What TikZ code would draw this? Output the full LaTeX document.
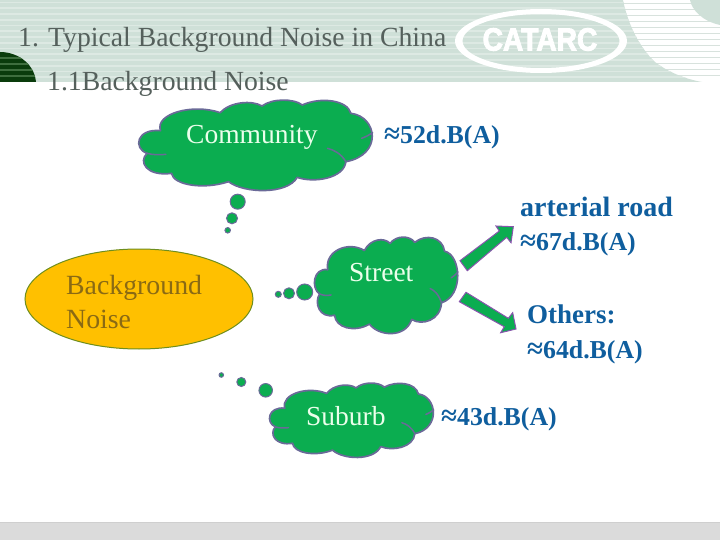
\documentclass[tikz,border=0pt]{standalone}
\usepackage{fontspec}
\usetikzlibrary{shapes.geometric}
\setmainfont{Liberation Serif}
\font\logofnt="Liberation Sans/B:embolden=3" at 32pt
\definecolor{hdr}{HTML}{CFE0D8}
\definecolor{hdrlight}{HTML}{DDE9E3}
\definecolor{hdrline}{HTML}{D8E2DD}
\definecolor{cloudfill}{HTML}{0BAD50}
\definecolor{cloudline}{HTML}{6A6A98}
\definecolor{titlegrey}{HTML}{55605C}
\definecolor{valblue}{HTML}{0F5E9E}
\definecolor{eline}{HTML}{6E8E1E}
\definecolor{etext}{HTML}{8A6A14}
\definecolor{efill}{HTML}{FFC000}
\definecolor{darkgr}{HTML}{0A3C0C}
\definecolor{darkst}{HTML}{3E6E3E}
\newcommand{\apx}{{\fontsize{29}{28}\selectfont ≈}}
\tikzset{
  cloudshape/.style={draw=cloudline,line width=1.7pt,fill=cloudfill,line join=round},
  cloudinner/.style={draw=cloudline,line width=1.5pt,line cap=round},
  bub/.style={circle,draw=cloudline,line width=1pt,fill=cloudfill,inner sep=0pt},
  blockarrow/.style={draw=cloudline!80!magenta,line width=1pt,fill=cloudfill,line join=miter},
  heading/.style={anchor=base west,inner sep=0pt,font=\fontsize{27.7}{30}\selectfont,text=titlegrey},
  cloudtext/.style={anchor=base west,inner sep=0pt,font=\fontsize{27.5}{30}\selectfont,text=white!92!green},
  ovaltext/.style={anchor=base west,inner sep=0pt,font=\fontsize{27.8}{30}\selectfont,text=etext},
  valtext/.style={anchor=base west,inner sep=0pt,font=\bfseries\fontsize{25.8}{28}\selectfont,text=valblue},
  wordtext/.style={anchor=base west,inner sep=0pt,font=\bfseries\fontsize{28}{28}\selectfont,text=valblue},
  oval/.style={ellipse,draw=eline,line width=1pt,fill=efill,inner sep=0pt,minimum width=228pt,minimum height=100pt},
}
\newcommand{\mycloud}[4]{%
  \begin{scope}[shift={(#1,#2)},x=#3pt/710,y=-#4pt/270,shift={(-25,-30)}]
    \draw[cloudshape] (92,122)
      .. controls (75,70) and (190,40) .. (270,68)
      .. controls (300,35) and (365,30) .. (395,48)
      .. controls (425,25) and (490,25) .. (515,45)
      .. controls (570,20) and (650,30) .. (660,70)
      .. controls (740,80) and (755,195) .. (645,215)
      .. controls (640,265) and (550,280) .. (500,262)
      .. controls (470,315) and (340,310) .. (295,275)
      .. controls (220,300) and (130,285) .. (125,250)
      .. controls (50,260) and (25,215) .. (52,190)
      .. controls (10,175) and (20,115) .. (92,122) -- cycle;
    \draw[cloudinner] (590,175) .. controls (610,180) and (630,190) .. (645,215);
    \draw[cloudinner] (52,190) .. controls (70,195) and (90,195) .. (108,193);
    \draw[cloudinner] (692,145) .. controls (705,140) and (715,135) .. (725,128);
  \end{scope}}
\begin{document}
\begin{tikzpicture}[x=1pt,y=-1pt]
\useasboundingbox (0,0) rectangle (720,540);
\fill[white] (0,0) rectangle (720,540);
% bottom band
\fill[black!14] (0,522) rectangle (720,540);
\draw[black!19,line width=.6pt] (0,522) -- (720,522);
% header: lines on white part
\foreach \k in {0,...,12}{\draw[hdrline,line width=1pt] (600,4+6*\k) -- (720,4+6*\k);}
% header: green part
\begin{scope}
  \path[clip] (0,0) -- (623,0) .. controls (628,25) and (640,48) .. (655,62)
     .. controls (668,72) and (685,79) .. (702,82) -- (0,82) -- cycle;
  \fill[hdr] (0,0) rectangle (720,82);
  \foreach \k in {0,...,13}{\draw[hdrlight,line width=1.6pt] (0,2.5+5.75*\k) -- (720,2.5+5.75*\k);}
\end{scope}
% top-right corner
\fill[hdr] (690,0) .. controls (692,10) and (702,21) .. (720,25) -- (720,0) -- cycle;
% dark corner
\begin{scope}
  \clip (0,0) rectangle (720,81.7);
  \fill[darkgr] (0,84) ellipse [x radius=36,y radius=32];
  \clip (0,84) ellipse [x radius=36,y radius=32];
  \foreach \y in {58,64,70,76}{\draw[darkst,line width=1.6pt] (0,\y) -- (40,\y);}
\end{scope}
% logo
\fill[white,even odd rule] (541,41) ellipse [x radius=86,y radius=32] (541,41) ellipse [x radius=78.5,y radius=27];
\node[anchor=center,inner sep=0pt,xscale=.88,text=white,font=\logofnt] (logo) at (540,39.5) {CATARC};
% headings
\node[heading] (title) at (18,47) {1. Typical Background Noise in China};
\node[heading] (subtitle) at (47,91) {1.1Background Noise};
% oval
\node[oval] (bgoval) at (139,299) {};
\node[ovaltext] (bg1) at (66,294) {Background};
\node[ovaltext] (bg2) at (66,328) {Noise};
% clouds
\mycloud{138}{100}{238}{90}
\mycloud{314}{237}{146}{96}
\mycloud{269}{383}{167}{74}
% bubbles
\node[bub,minimum size=15pt] (c1) at (237.7,201.7) {};
\node[bub,minimum size=11pt] (c2) at (232,218.3) {};
\node[bub,minimum size=5.5pt] (c3) at (227.7,230.3) {};
\node[bub,minimum size=16pt] (s1) at (304.7,292) {};
\node[bub,minimum size=11pt] (s2) at (289,293.3) {};
\node[bub,minimum size=6pt] (s3) at (278.3,294.3) {};
\node[bub,minimum size=13.5pt] (u1) at (265.7,390.3) {};
\node[bub,minimum size=9pt] (u2) at (241.3,382) {};
\node[bub,minimum size=4.5pt] (u3) at (221.3,375) {};
% arrows
\draw[blockarrow] (460,260.7) -- (499.3,231) -- (496,226) -- (513.3,226.7) -- (511,242.7) -- (506.7,237.3) -- (467.3,270.7) -- cycle;
\draw[blockarrow] (466,292.3) -- (508.3,318.3) -- (512.7,312.7) -- (516,329) -- (500.7,332.7) -- (504.3,326.7) -- (459.3,301.7) -- cycle;
% cloud texts
\node[cloudtext] (community) at (186,144) {Community};
\node[cloudtext] (street) at (349,281) {Street};
\node[cloudtext] (suburb) at (306,425) {Suburb};
% values
\node[valtext] (v1) at (384,144) {\apx 52d.B(A)};
\node[wordtext] (v2a) at (520,216) {arterial road};
\node[valtext] (v2b) at (520,250) {\apx 67d.B(A)};
\node[wordtext,font=\bfseries\fontsize{27}{28}\selectfont] (v3a) at (527,323) {Others:};
\node[valtext] (v3b) at (527,358) {\apx 64d.B(A)};
\node[valtext] (v4) at (441,425) {\apx 43d.B(A)};
\end{tikzpicture}
\end{document}
